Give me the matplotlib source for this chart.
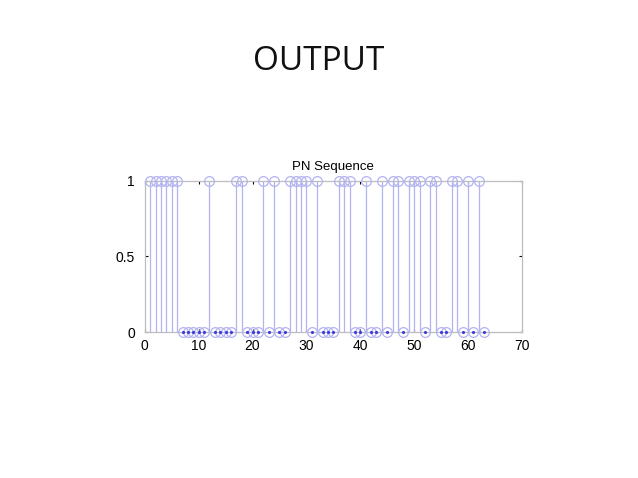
import matplotlib.pyplot as plt
import numpy as np

# PN sequence (indices 1..63)
n = list(range(1, 64))
pn = [1, 1, 1, 1, 1, 1, 0, 0, 0, 0, 0, 1, 0, 0, 0, 0, 1, 1, 0, 0, 0,
      1, 0, 1, 0, 0, 1, 1, 1, 1, 0, 1, 0, 0, 0, 1, 1, 1, 0, 0, 1, 0,
      0, 1, 0, 1, 1, 0, 1, 1, 1, 0, 1, 1, 0, 0, 1, 1, 0, 1, 0, 1, 0]
xticks = [0, 10, 20, 30, 40, 50, 60, 70]
yticks = [0, 0.5, 1]

plt.rcParams['font.family'] = ['Liberation Sans', 'DejaVu Sans']

fig = plt.figure(figsize=(6.38, 4.78), dpi=100)
fig.text(0.5, 0.872, "OUTPUT", ha='center', va='center', fontsize=24,
         family=['Open Sans', 'DejaVu Sans'], color='#111111')

ax = fig.add_axes([0.227, 0.3054, 0.591, 0.316])
stem_col = '#b3b3f2'
markers, stems, base = ax.stem(n, pn, basefmt=' ')
plt.setp(stems, color=stem_col, linewidth=0.9)
plt.setp(markers, marker='o', markersize=7, markerfacecolor='none',
         markeredgecolor=stem_col, markeredgewidth=0.9, clip_on=False,
         zorder=3)

# dark centres on the zero samples
x0 = [x for x, v in zip(n, pn) if v == 0]
y0 = [v for v in pn if v == 0]
ax.plot(x0, y0, linestyle='none', marker='.', markersize=2.5, color='#3a3ae0',
        clip_on=False, zorder=4)

ax.set_xlim(0, 70)
ax.set_ylim(0, 1)
ax.set_xticks(xticks)
ax.set_yticks(yticks)
ax.set_yticklabels(['0', '0.5', '1'])
ax.tick_params(direction='in', length=2, width=0.8, color='black',
               top=True, right=True, labelsize=10, pad=5)
ax.tick_params(axis='y', pad=7)
for s in ax.spines.values():
    s.set_color('#bdbdbd')
    s.set_linewidth(0.9)
ax.set_title("PN Sequence", fontsize=9.5, pad=8)

fig.savefig("out.png", dpi=100)
